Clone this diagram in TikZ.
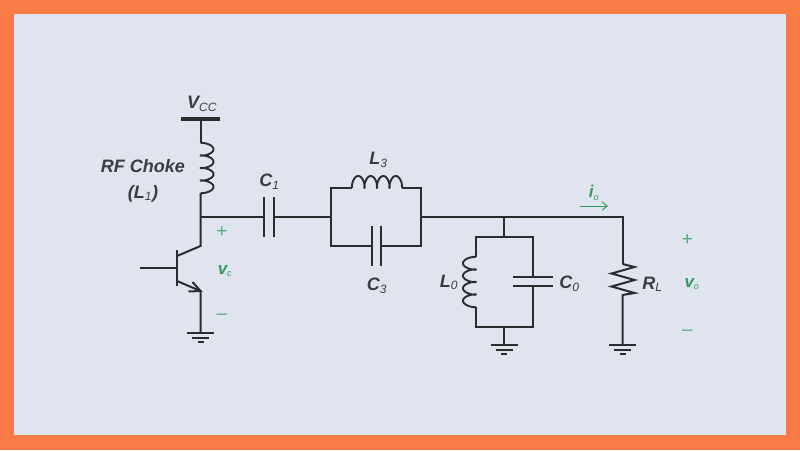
\documentclass[tikz,border=0pt]{standalone}
\usepackage{fontspec}
\setmainfont{Liberation Sans}
\usetikzlibrary{arrows.meta}
\definecolor{frame}{HTML}{F97B45}
\definecolor{panel}{HTML}{E0E4EE}
\definecolor{ink}{HTML}{2B2C2E}
\definecolor{lab}{HTML}{3A3C40}
\definecolor{grn}{HTML}{2E9E5B}
\tikzset{
  wire/.style={draw=ink,line width=2pt,line join=miter},
  plate/.style={draw=ink,line width=2pt},
  bar/.style={draw=ink,line width=3.2pt},
  coilline/.style={draw=ink,line width=1.9pt,line join=round},
  lbl/.style={text=lab,font=\itshape\bfseries\fontsize{18}{20}\selectfont,inner sep=0pt},
  glbl/.style={text=grn,font=\itshape\bfseries\fontsize{17}{19}\selectfont,inner sep=0pt},
  sign/.style={text=grn!80!panel,font=\fontsize{19}{20}\selectfont,inner sep=0pt}
}
% vertical coil: x, top y, side
\newcommand\coilV[3]{plot[domain=0:1440,samples=200] ({#1+#3*13*(1-cos(\x))/2},{#2+1.99*rad(\x)-2.4*sin(\x)})}
% horizontal coil: left x, y
\newcommand\coilH[2]{plot[domain=0:1440,samples=200] ({#1+1.99*rad(\x)-2.4*sin(\x)},{#2-12*(1-cos(\x))/2})}
\newcommand\sub[1]{\textsubscript{\fontsize{12}{12}\mdseries\selectfont #1}}
\newcommand\gsub[1]{\textsubscript{\fontsize{9}{9}\mdseries\selectfont #1}}
\begin{document}
\begin{tikzpicture}[x=1pt,y=-1pt]
\useasboundingbox (0,0) rectangle (800,450);
\fill[frame] (0,0) rectangle (800,450);
\fill[panel] (14,14) rectangle (786,435);

% named points
\coordinate (vcc) at (200.5,119);
\coordinate (vccL) at (181,119);
\coordinate (vccR) at (220,119);
\coordinate (chokeT) at (200.5,143);
\coordinate (chokeB) at (200.5,193);
\coordinate (j1) at (200.5,217);
\coordinate (col) at (200.5,246);
\coordinate (colB) at (177,256);
\coordinate (baseT) at (177,250);
\coordinate (baseB) at (177,286);
\coordinate (baseM) at (177,268);
\coordinate (baseIn) at (140,268);
\coordinate (emB) at (177,281);
\coordinate (em) at (200.5,291);
\coordinate (g1) at (200.5,333);
\coordinate (c1a) at (264,217);
\coordinate (c1b) at (273.5,217);
\coordinate (j2) at (331,217);
\coordinate (j2T) at (331,188);
\coordinate (j2B) at (331,246);
\coordinate (j3) at (421,217);
\coordinate (j3T) at (421,188);
\coordinate (j3B) at (421,246);
\coordinate (l3a) at (352,188);
\coordinate (l3b) at (402,188);
\coordinate (c3a) at (372,246);
\coordinate (c3b) at (381,246);
\coordinate (j4) at (504,217);
\coordinate (j4B) at (504,236.5);
\coordinate (tl) at (476,236.5);
\coordinate (tr) at (533,236.5);
\coordinate (bl) at (476,327);
\coordinate (br) at (533,327);
\coordinate (bm) at (504,327);
\coordinate (l0a) at (476,257);
\coordinate (l0b) at (476,307);
\coordinate (c0a) at (533,277);
\coordinate (c0b) at (533,286);
\coordinate (g2) at (504,345);
\coordinate (rT) at (622.5,217);
\coordinate (r1) at (622.5,264);
\coordinate (r2) at (622.5,295);
\coordinate (g3) at (622.5,345);
\coordinate (ioA) at (580,206);
\coordinate (ioB) at (608,206);

% Vcc and choke
\draw[bar] (vccL) -- (vccR);
\draw[wire] (vcc) -- (chokeT);
\draw[coilline] \coilV{200.5}{143}{1};
\draw[wire] (chokeB) -- (col) -- (colB);
% transistor
\draw[plate] (baseT) -- (baseB);
\draw[wire] (baseIn) -- (baseM);
\draw[wire] (emB) -- (em) -- (g1);
\draw[wire] (em) ++(-8,-9) -- (em) -- ++(-12,0.5);
% ground 1
\foreach \p/\w/\d in {g1/13.5/0,g1/8.5/4.5,g1/3/9}
  \draw[plate] ([shift={(-\w,\d)}]\p) -- ([shift={(\w,\d)}]\p);
% C1
\draw[wire] (j1) -- (c1a);
\draw[plate] ([yshift=20pt]c1a) -- ([yshift=-20pt]c1a);
\draw[plate] ([yshift=20pt]c1b) -- ([yshift=-20pt]c1b);
\draw[wire] (c1b) -- (j2);
% L3 C3 tank
\draw[wire] (l3a) -- (j2T) -- (j2B) -- (c3a);
\draw[wire] (l3b) -- (j3T) -- (j3B) -- (c3b);
\draw[coilline] \coilH{352}{188};
\draw[plate] ([yshift=20pt]c3a) -- ([yshift=-20pt]c3a);
\draw[plate] ([yshift=20pt]c3b) -- ([yshift=-20pt]c3b);
% main line
\draw[wire] (j3) -- (rT) -- (r1);
\draw[wire] (j4) -- (j4B);
% L0 C0 tank
\draw[wire] (l0a) -- (tl) -- (tr) -- (c0a);
\draw[wire] (l0b) -- (bl) -- (br) -- (c0b);
\draw[coilline] \coilV{476}{257}{-1};
\draw[plate] ([xshift=-20pt]c0a) -- ([xshift=20pt]c0a);
\draw[plate] ([xshift=-20pt]c0b) -- ([xshift=20pt]c0b);
\draw[wire] (bm) -- (g2);
\foreach \p/\w/\d in {g2/13.5/0,g2/8.5/4.5,g2/3/9}
  \draw[plate] ([shift={(-\w,\d)}]\p) -- ([shift={(\w,\d)}]\p);
% RL
\draw[wire] (r1) -- ++(12,3) -- ++(-23,6.5) -- ++(23,6.5) -- ++(-23,6.5) -- ++(23,6.5) -- (r2) -- (g3);
\foreach \p/\w/\d in {g3/13.5/0,g3/8.5/4.5,g3/3/9}
  \draw[plate] ([shift={(-\w,\d)}]\p) -- ([shift={(\w,\d)}]\p);
% current arrow
\draw[draw=grn,line width=1pt,-{Straight Barb[length=5pt,width=8pt]}] (ioA) -- (ioB);

% labels
\node[lbl] (tvcc) at (202,104) {V\sub{CC}};
\node[lbl] (trf) at (143,166) {RF Choke};
\node[lbl] (tl1) at (143,193.5) {(L\sub{1})};
\node[lbl] (tc1) at (269.5,181.5) {C\sub{1}};
\node[lbl] (tl3) at (378.5,160) {L\sub{3}};
\node[lbl] (tc3) at (377,285.5) {C\sub{3}};
\node[lbl] (tl0) at (449,282.5) {L\sub{0}};
\node[lbl] (tc0) at (569.5,283.5) {C\sub{0}};
\node[lbl] (trl) at (652.5,284.5) {R\sub{L}};
\node[glbl] (tio) at (594,193) {i\gsub{o}};
\node[glbl] (tvo) at (692,284) {v\gsub{o}};
\node[glbl] (tvc) at (225,271) {v\gsub{c}};
\node[sign] (p1) at (222,232.5) {+};
\node[sign] (m1) at (222,317) {–};
\node[sign] (p2) at (687.5,240) {+};
\node[sign] (m2) at (687.5,333) {–};
\end{tikzpicture}
\end{document}
